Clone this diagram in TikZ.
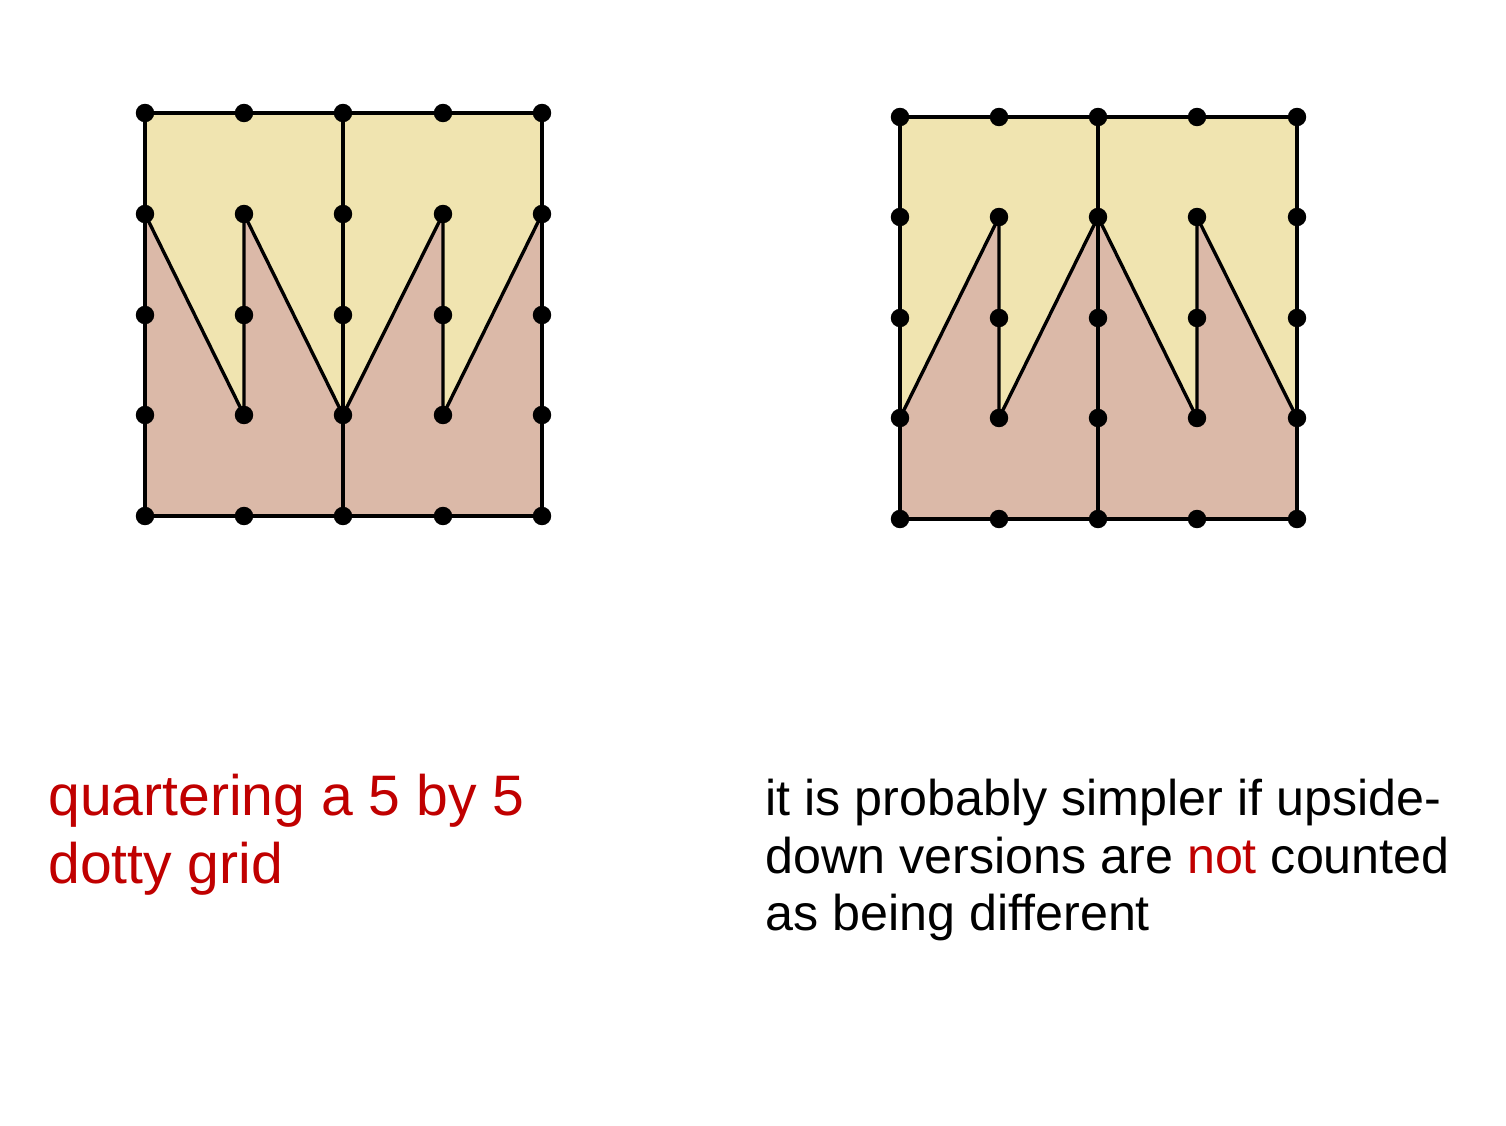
\documentclass[tikz,border=0pt]{standalone}
\usepackage{fontspec}
\setmainfont{Liberation Sans}
\definecolor{yel}{HTML}{F0E4B0}
\definecolor{brn}{HTML}{DBB9A8}
\definecolor{rd}{HTML}{C00000}
\tikzset{dot/.style={circle,fill=black,inner sep=0pt,minimum size=10.5pt},
 edge/.style={line width=1.9pt,line join=round},
 txt/.style={anchor=base west,inner sep=0pt,font=\fontsize{28.6}{34}\selectfont},
 txtb/.style={anchor=base west,inner sep=0pt,font=\fontsize{32.5}{38}\selectfont}}
\begin{document}
\begin{tikzpicture}[x=0.02cm,y=-0.02cm]
\useasboundingbox (0,0) rectangle (1506,1125);
% left
\fill[brn] (145,113) rectangle (542,516);
\fill[yel] (145,113) -- (542,113) -- (542,214) -- (443,415) -- (443,214) -- (343,415) -- (244,214) -- (244,415) -- (145,214) -- cycle;
\draw[edge] (145,113) rectangle (542,516);
\draw[edge] (343,113) -- (343,516);
\draw[edge] (145,214) -- (244,415) -- (244,214) -- (343,415) -- (443,214) -- (443,415) -- (542,214);
\foreach \x [count=\i] in {145,244,343,443,542}
 \foreach \y [count=\j] in {113,214,315,415,516}
  \node[dot] (L\i\j) at (\x,\y) {};
% right
\fill[brn] (900,117) rectangle (1297,519);
\fill[yel] (900,117) -- (1297,117) -- (1297,418) -- (1197,217) -- (1197,418) -- (1098,217) -- (999,418) -- (999,217) -- (900,418) -- cycle;
\draw[edge] (900,117) rectangle (1297,519);
\draw[edge] (1098,117) -- (1098,519);
\draw[edge] (900,418) -- (999,217) -- (999,418) -- (1098,217) -- (1197,418) -- (1197,217) -- (1297,418);
\foreach \x [count=\i] in {900,999,1098,1197,1297}
 \foreach \y [count=\j] in {117,217,318,418,519}
  \node[dot] (R\i\j) at (\x,\y) {};
% text
\node[txtb,text=rd] (t1) at (48,815) {quartering a 5 by 5};
\node[txtb,text=rd] (t2) at (48,883) {dotty grid};
\node[txt] (t3) at (765,815) {it is probably simpler if upside-};
\node[txt] (t4) at (765,873) {down versions are \textcolor{rd}{not} counted};
\node[txt] (t5) at (765,930) {as being different};
\end{tikzpicture}
\end{document}
